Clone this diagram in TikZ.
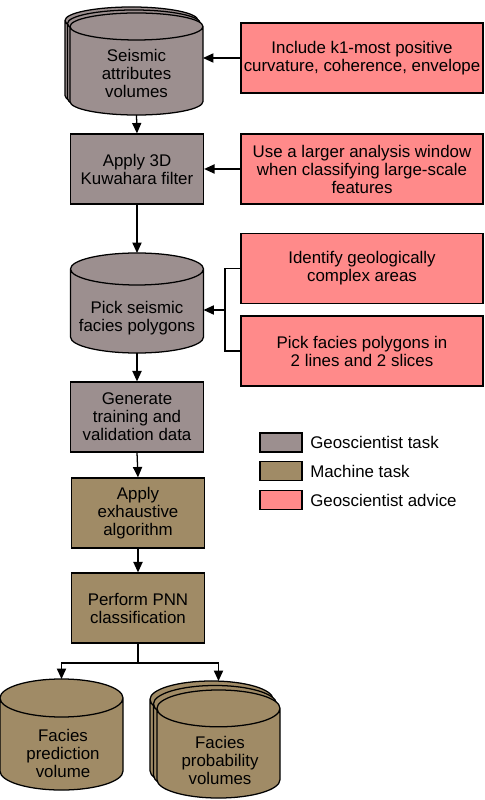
\documentclass[tikz,border=0pt]{standalone}
\usepackage{fontspec}
\setmainfont{Liberation Sans}
\usetikzlibrary{arrows.meta,positioning,calc}

\definecolor{geogrey}{HTML}{9C8F8F}
\definecolor{machbrown}{HTML}{A08B66}
\definecolor{advpink}{HTML}{FF8A8A}

% #1 node, #2 half height of the end ellipse, #3 fill
\newcommand{\drawdrum}[3]{%
  \path[draw, line width=0.9pt, fill=#3] let \p1=(#1.north west), \p2=(#1.south east), \n1={(\x2-\x1)/2} in
    (\x1,{\y1-#2}) -- (\x1,{\y2+#2}) arc[start angle=180, end angle=360, x radius=\n1, y radius=#2]
    -- (\x2,{\y1-#2}) arc[start angle=0, end angle=180, x radius=\n1, y radius=#2] -- cycle
    (\x1,{\y1-#2}) arc[start angle=180, end angle=360, x radius=\n1, y radius=#2];
}

\begin{document}
\begin{tikzpicture}[
  x=0.025cm, y=-0.025cm,
  font=\fontsize{12}{12.8}\selectfont,
  box/.style={draw, line width=0.9pt, align=center, minimum width=3.325cm, minimum height=1.75cm, inner sep=2pt, fill=#1},
  task/.style={box=geogrey},
  machine/.style={box=machbrown},
  advice/.style={box=advpink, minimum width=6.05cm},
  vol/.style={inner sep=0pt, outer sep=0pt},
  txt/.style={align=center, inner sep=0pt},
  key/.style={draw, line width=0.9pt, minimum width=1.05cm, minimum height=0.475cm, inner sep=0pt, fill=#1},
  arr/.style={-{Triangle[length=2.6mm, width=2.3mm]}, line width=0.9pt},
  ln/.style={line width=0.9pt}
]
\useasboundingbox (0,0) rectangle (485,800);

% main column
\node[vol, minimum width=3.325cm, minimum height=2.55cm] (attrb2) at (131.5,58) {};
\drawdrum{attrb2}{0.3375cm}{geogrey}
\node[vol, minimum width=3.325cm, minimum height=2.55cm] (attrb1) at (134,61) {};
\drawdrum{attrb1}{0.3375cm}{geogrey}
\node[vol, minimum width=3.325cm, minimum height=2.55cm] (attr) at (136.5,64) {};
\drawdrum{attr}{0.3375cm}{geogrey}
\node[txt] (attrtxt) at (136.5,73) {Seismic\\attributes\\volumes};

\node[task] (kuw) at (137,169) {Apply 3D\\Kuwahara filter};

\node[vol, minimum width=3.325cm, minimum height=2.5cm] (pick) at (137,303) {};
\drawdrum{pick}{0.4cm}{geogrey}
\node[txt] (picktxt) at (137,318) {Pick seismic\\facies polygons};

\node[task] (gen) at (137,417) {Generate\\training and\\validation data};
\node[machine] (exh) at (138,513) {Apply\\exhaustive\\algorithm};
\node[machine] (pnn) at (138,608) {Perform PNN\\classification};

% outputs
\node[vol, minimum width=3.075cm, minimum height=2.775cm] (pred) at (61.5,734.5) {};
\drawdrum{pred}{0.475cm}{machbrown}
\node[txt] (predtxt) at (63,753) {Facies\\prediction\\volume};

\node[vol, minimum width=3.075cm, minimum height=2.7cm] (probb2) at (211.5,735) {};
\drawdrum{probb2}{0.46cm}{machbrown}
\node[vol, minimum width=3.075cm, minimum height=2.7cm] (probb1) at (215,739.5) {};
\drawdrum{probb1}{0.46cm}{machbrown}
\node[vol, minimum width=3.075cm, minimum height=2.7cm] (prob) at (218.5,744) {};
\drawdrum{prob}{0.46cm}{machbrown}
\node[txt] (probtxt) at (220,760) {Facies\\probability\\volumes};

% advice
\node[advice] (inc) at (362,58) {Include k1-most positive\\curvature, coherence, envelope};
\node[advice] (win) at (362,169) {Use a larger analysis window\\when classifying large-scale\\features};
\node[advice] (ident) at (362,268.5) {Identify geologically\\complex areas};
\node[advice] (pickfp) at (362,351) {Pick facies polygons in\\2 lines and 2 slices};

% legend
\node[key=geogrey] (k1) at (281,442.5) {};
\node[key=machbrown] (k2) at (281,471) {};
\node[key=advpink] (k3) at (281,500) {};
\node[anchor=west, inner sep=0pt] (k1txt) at (310,442.5) {Geoscientist task};
\node[anchor=west, inner sep=0pt] (k2txt) at (310,471) {Machine task};
\node[anchor=west, inner sep=0pt] (k3txt) at (310,500) {Geoscientist advice};

% connectors
\draw[arr] (attr.south) -- (kuw.north);
\draw[arr] (kuw.south) -- (pick.north);
\draw[arr] (pick.south) -- (gen.north);
\draw[arr] (gen.south) -- (exh.north);
\draw[arr] (exh.south) -- (pnn.north);
\draw[arr] (inc.west) -- (inc.west -| attr.east);
\draw[arr] (win.west) -- (kuw.east);

\coordinate (brk) at (225,310);
\draw[ln] (ident.west) -| (brk) |- (pickfp.west);
\draw[arr] (brk) -- (brk -| pick.east);

\coordinate (split) at (138,663);
\draw[ln] (pnn.south) -- (split);
\draw[arr] (split) -| (pred.north);
\draw[arr] (split) -| (prob.north |- probb2.north);

\end{tikzpicture}
\end{document}
